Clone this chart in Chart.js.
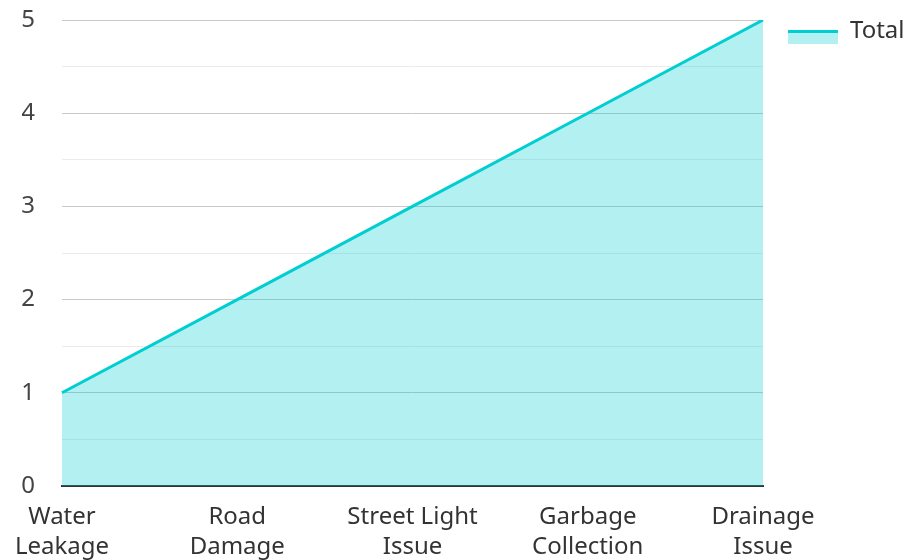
<!DOCTYPE html>
<html>
<head>
<meta charset="utf-8">
<script src="https://cdn.jsdelivr.net/npm/chart.js@4/dist/chart.umd.min.js"></script>
<style>
html,body{margin:0;padding:0;background:#fff;}
#wrap{width:904px;height:560px;position:relative;}
</style>
</head>
<body>
<div id="wrap"><canvas id="c"></canvas></div>
<script>
const categories = [["Water","Leakage"],["Road","Damage"],["Street Light","Issue"],["Garbage","Collection"],["Drainage","Issue"]];
const totalValues = [1, 2, 3, 4, 5];
const seriesName = "Total";
const yTicks = [0, 1, 2, 3, 4, 5];

const LINE = "rgb(0,206,209)";
const FILL = "rgba(0,206,209,0.3)";
const FONT = "'Noto Sans', 'Open Sans', sans-serif";

// legend sample: top line + fill below
const sample = document.createElement('canvas');
sample.width = 50; sample.height = 30;
(function(){
  const g = sample.getContext('2d');
  g.fillStyle = FILL; g.fillRect(0, 17, 50, 11);
  g.fillStyle = LINE; g.fillRect(0, 14, 50, 3);
})();

const legendTweak = {
  id: 'legendTweak',
  afterInit(chart) {
    const lg = chart.legend;
    if (!lg) return;
    const orig = lg.fit;
    lg.fit = function() { orig.call(this); this.width = 141; };
  },
  afterLayout(chart) {
    const lg = chart.legend;
    if (!lg) return;
    lg.left = 778;
    lg.top = 9;
  }
};

new Chart(document.getElementById('c'), {
  type: 'line',
  data: {
    labels: categories,
    datasets: [{
      label: seriesName,
      data: totalValues,
      borderColor: LINE,
      backgroundColor: FILL,
      borderWidth: 3,
      fill: 'origin',
      tension: 0,
      pointRadius: 0,
      pointHoverRadius: 0
    }]
  },
  plugins: [legendTweak],
  options: {
    responsive: true,
    maintainAspectRatio: false,
    animation: false,
    layout: { padding: { top: 20, left: 22, right: 0, bottom: 0 } },
    plugins: {
      tooltip: { enabled: false },
      legend: {
        position: 'right',
        align: 'start',
        labels: {
          font: { family: FONT, size: 24 },
          color: '#333',
          usePointStyle: true,
          pointStyleWidth: 50,
          boxHeight: 24,
          padding: 10,
          generateLabels(chart) {
            return [{ text: seriesName, pointStyle: sample, fillStyle: FILL, strokeStyle: LINE, lineWidth: 0, hidden: false, datasetIndex: 0, fontColor: '#333' }];
          }
        }
      }
    },
    scales: {
      x: {
        z: 1,
        grid: { display: false, drawTicks: false },
        border: { display: true, color: '#333', width: 2 },
        ticks: {
          font: { family: FONT, size: 24, lineHeight: 1.25 },
          color: '#333',
          padding: 16,
          maxRotation: 0,
          autoSkip: false
        },
        afterFit(scale) { scale.paddingRight = 0; scale.paddingLeft = 0; scale.height = 74; }
      },
      y: {
        min: 0,
        max: 5,
        grid: {
          drawTicks: false,
          color(ctx) { return Number.isInteger(ctx.tick.value) ? '#c8c8c8' : '#ebebeb'; },
          lineWidth: 1
        },
        border: { display: false },
        ticks: {
          stepSize: 0.5,
          font: { family: FONT, size: 24, lineHeight: 1.25 },
          color: '#444',
          padding: 27,
          callback(v) { return yTicks.includes(v) ? String(v) : ''; }
        },
        afterFit(scale) { scale.paddingTop = 0; scale.paddingBottom = 0; scale.width = 40; }
      }
    }
  }
});
</script>
</body>
</html>
